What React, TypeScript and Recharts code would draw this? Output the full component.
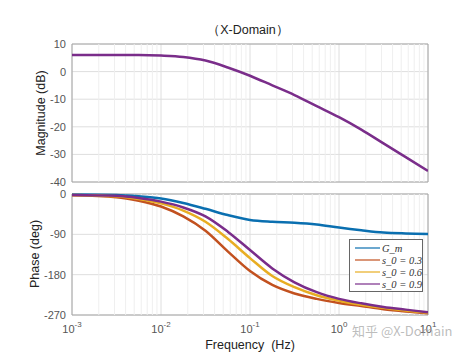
import { LineChart, Line, XAxis, YAxis, CartesianGrid, ReferenceLine, ReferenceArea } from 'recharts';

// frequency points (Hz), roughly quarter decades
const freqs = [0.001, 0.00316, 0.00562, 0.01, 0.0178, 0.0316, 0.0562, 0.1, 0.178, 0.316, 0.562, 1, 1.78, 3.16, 5.62, 10];

const magnitude = [6.0, 6.0, 6.0, 5.8, 5.3, 4.0, 1.5, -1.5, -5.0, -8.5, -12.5, -16.5, -21.0, -26.0, -31.0, -36.0];

const phaseGm = [-1, -2, -5, -10, -20, -33, -47, -58, -62, -64, -68, -75, -81, -86, -88, -89];
const phaseS03 = [-3, -7, -15, -28, -50, -82, -128, -172, -203, -222, -234, -243, -250, -257, -262, -266];
const phaseS06 = [-2, -5, -11, -21, -37, -62, -100, -143, -183, -208, -226, -238, -247, -254, -260, -265];
const phaseS09 = [-2, -4, -9, -17, -30, -50, -84, -125, -166, -197, -219, -234, -244, -252, -258, -264];

const freqTicks = [0.001, 0.01, 0.1, 1, 10];
const magTicks = [-40, -30, -20, -10, 0, 10];
const phaseTicks = [-270, -180, -90, 0];

const series = [
  { key: 'gm', name: 'G_m', color: '#0a6fb0' },
  { key: 's03', name: 's_0 = 0.3', color: '#c2511f' },
  { key: 's06', name: 's_0 = 0.6', color: '#e8ad22' },
  { key: 's09', name: 's_0 = 0.9', color: '#7a2d8a' },
];

const magData = freqs.map((f, i) => ({ f, mag: magnitude[i] }));
const phaseData = freqs.map((f, i) => ({
  f,
  gm: phaseGm[i],
  s03: phaseS03[i],
  s06: phaseS06[i],
  s09: phaseS09[i],
}));

// minor grid for the log axis
const minorFreqs: number[] = [];
[0.001, 0.01, 0.1, 1].forEach((d) => {
  for (let k = 2; k <= 9; k++) minorFreqs.push(+(d * k).toPrecision(3));
});

const font = '"Liberation Sans", Arial, sans-serif';
const tickColor = '#555';
const frameColor = '#a6a6a6';

function FreqTick(props: any) {
  const { x, y, payload } = props;
  const exp = Math.round(Math.log10(payload.value));
  return (
    <text x={x} y={y} dy={14} textAnchor="middle" fill={tickColor} fontSize={11} fontFamily={font}>
      <tspan>10</tspan>
      <tspan dy={-6} fontSize={8}>{exp}</tspan>
    </text>
  );
}

function Grid() {
  return minorFreqs.map((v) => (
    <ReferenceLine key={v} x={v} stroke="#efefef" strokeWidth={1} ifOverflow="hidden" />
  ));
}

export default function App() {
  return (
    <div style={{ position: 'absolute', left: 0, top: 0, width: 474, height: 355, background: '#fff', fontFamily: font }}>
      <div style={{ position: 'absolute', left: 0, top: 0 }}>
        <LineChart width={474} height={190} data={magData} margin={{ top: 44, right: 46, bottom: 8, left: 42 }}>
          {Grid()}
          <CartesianGrid stroke="#dedede" vertical={true} horizontal={true} />
          <XAxis dataKey="f" type="number" scale="log" domain={[0.001, 10]} ticks={freqTicks} hide allowDataOverflow />
          <YAxis
            type="number"
            domain={[-40, 10]}
            ticks={magTicks}
            width={30}
            axisLine={false}
            tickLine={false}
            tickSize={0}
            tickMargin={6}
            interval={0}
            tick={{ fill: tickColor, fontSize: 11, fontFamily: font }}
          />
          <ReferenceArea x1={0.001} x2={10} y1={-40} y2={10} fill="none" stroke={frameColor} strokeWidth={1} />
          <Line type="monotone" dataKey="mag" stroke="#7a2d8a" strokeWidth={2.5} dot={false} isAnimationActive={false} />
        </LineChart>
      </div>
      <div style={{ position: 'absolute', left: 0, top: 185 }}>
        <LineChart width={474} height={170} data={phaseData} margin={{ top: 9, right: 46, bottom: 10, left: 42 }}>
          {Grid()}
          <CartesianGrid stroke="#dedede" />
          <XAxis
            dataKey="f"
            type="number"
            scale="log"
            domain={[0.001, 10]}
            ticks={freqTicks}
            interval={0}
            height={30}
            axisLine={false}
            tickLine={false}
            tickSize={0}
            tickMargin={4}
            tick={<FreqTick />}
            allowDataOverflow
          />
          <YAxis
            type="number"
            domain={[-270, 0]}
            ticks={phaseTicks}
            width={30}
            axisLine={false}
            tickLine={false}
            tickSize={0}
            tickMargin={6}
            interval={0}
            tick={{ fill: tickColor, fontSize: 11, fontFamily: font }}
          />
          <ReferenceArea x1={0.001} x2={10} y1={-270} y2={0} fill="none" stroke={frameColor} strokeWidth={1} />
          {series.map((s) => (
            <Line key={s.key} type="monotone" dataKey={s.key} name={s.name} stroke={s.color} strokeWidth={2.5} dot={false} isAnimationActive={false} />
          ))}
        </LineChart>
      </div>

      {/* title and axis labels */}
      <div style={{ position: 'absolute', left: 0, width: 496, top: 22, textAlign: 'center', fontSize: 12.5, color: '#222' }}>
        （X-Domain）
      </div>
      <div style={{ position: 'absolute', left: 0, width: 500, top: 338, textAlign: 'center', fontSize: 12.5, color: '#222' }}>
        Frequency&nbsp;&nbsp;(Hz)
      </div>
      <div style={{ position: 'absolute', left: 41, top: 113, width: 0, height: 0 }}>
        <div style={{ position: 'absolute', transform: 'translate(-50%, -50%) rotate(-90deg)', whiteSpace: 'nowrap', fontSize: 12.5, color: '#222' }}>
          Magnitude (dB)
        </div>
      </div>
      <div style={{ position: 'absolute', left: 35, top: 254, width: 0, height: 0 }}>
        <div style={{ position: 'absolute', transform: 'translate(-50%, -50%) rotate(-90deg)', whiteSpace: 'nowrap', fontSize: 12.5, color: '#222' }}>
          Phase (deg)
        </div>
      </div>

      {/* legend */}
      <div
        style={{
          position: 'absolute',
          left: 349,
          top: 239,
          width: 74,
          height: 53,
          border: '1px solid #666',
          background: '#fff',
          padding: '2px 0 0 0',
          boxSizing: 'border-box',
        }}
      >
        {series.map((s) => (
          <div key={s.key} style={{ display: 'flex', alignItems: 'center', height: 12 }}>
            <svg width={30} height={12} style={{ flex: 'none' }}>
              <line x1={5} x2={30} y1={6} y2={6} stroke={s.color} strokeWidth={1.2} />
            </svg>
            <span style={{ fontFamily: '"Liberation Serif", "DejaVu Serif", serif', fontStyle: 'italic', fontSize: 10.5, color: '#333', marginLeft: 2, whiteSpace: 'nowrap' }}>
              {s.name}
            </span>
          </div>
        ))}
      </div>

      {/* watermark */}
      <div style={{ position: 'absolute', left: 352, top: 321, fontSize: 13, color: 'rgba(160,160,160,0.7)', fontFamily: '"Noto Sans CJK SC", "Noto Sans", sans-serif', whiteSpace: 'nowrap' }}>
        知乎 @X-Domain
      </div>
    </div>
  );
}
